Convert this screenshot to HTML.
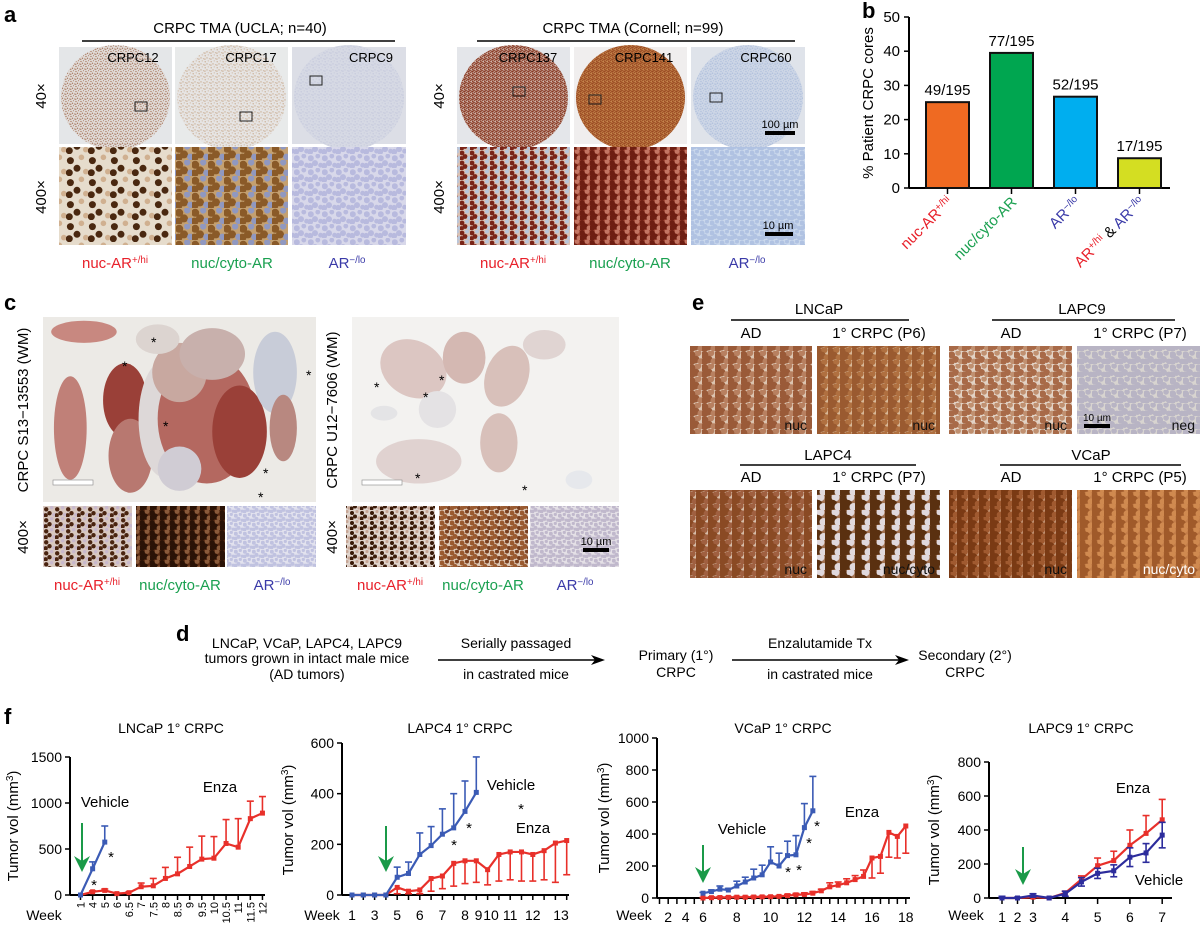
<!DOCTYPE html>
<html><head><meta charset="utf-8"><style>
html,body{margin:0;padding:0;background:#fff;}
svg{display:block;font-family:"Liberation Sans",Arial,sans-serif;}
</style></head><body>
<svg id="fig" width="1200" height="929" viewBox="0 0 1200 929">
<defs id="defs"></defs>
<g id="root"></g>
</svg>
<script>
// ---------- chart data ----------
const barCats = ['nuc-AR+/hi','nuc/cyto-AR','AR-/lo','AR+/hi & AR-/lo'];
const barVals = [25.1, 39.5, 26.7, 8.7];
const barText = ['49/195','77/195','52/195','17/195'];
const barTicks = [0,10,20,30,40,50];

const lnTickLabels = ['1','4','5','6','6.5','7','7.5','8','8.5','9','9.5','10','10.5','11','11.5','12'];
const lnVehVals = [0,285,575];
const lnVehErr = [0,75,175];
const lnEnzVals = [0,35,50,15,25,90,100,180,230,310,390,400,560,520,830,890];
const lnEnzErr = [0,10,15,5,10,40,80,120,180,210,250,235,260,310,190,180];
const lnYTicks = [0,500,1000,1500];

const l4TickLabels = ['1','3','5','6','7','8','9','10','11','12','13'];
const l4TickPos = [0,2,4,6,8,10,11.2,12.3,14,16,18.5];
const l4VehVals = [0,0,0,0,70,85,160,195,240,265,330,405];
const l4VehErr = [0,0,0,0,40,45,85,75,100,135,120,140];
const l4EnzVals = [0,0,0,0,30,15,20,65,75,125,135,135,100,160,170,170,160,175,205,215];
const l4EnzErr = [0,0,0,0,-25,-10,-15,-50,-50,-90,-90,-85,-60,-105,-110,-115,-105,-115,-155,-135];
const l4YTicks = [0,200,400,600];

const vcTickLabels = ['2','4','6','8','10','12','14','16','18'];
const vcTickWeeks = [2,4,6,8,10,12,14,16,18];
const vcVehWeeks = [6,6.5,7,7.5,8,8.5,9,9.5,10,10.5,11,11.5,12,12.5];
const vcVehVals = [30,40,55,50,75,100,125,145,225,200,265,270,440,545];
const vcVehErr = [5,10,20,10,30,30,55,60,95,80,90,120,150,215];
const vcEnzWeeks = [6,6.5,7,7.5,8,8.5,9,9.5,10,10.5,11,11.5,12,12.5,13,13.5,14,14.5,15,15.5,16,16.5,17,17.5,18];
const vcEnzVals = [0,2,3,4,5,5,6,7,8,10,15,20,22,30,45,70,80,95,115,135,250,260,410,385,450];
const vcEnzErr = [3,5,5,5,5,5,5,5,5,5,8,8,10,10,10,25,20,25,25,40,-125,-105,-155,-135,-170];
const vcYTicks = [0,200,400,600,800,1000];

const l9Weeks = [1,2,3,3.5,4,4.5,5,5.5,6,6.5,7];
const l9TickLabels = ['1','2','3','4','5','6','7'];
const l9TickWeeks = [1,2,3,4,5,6,7];
const l9VehVals = [0,0,15,0,25,95,145,160,240,265,370];
const l9VehErr = [10,5,10,5,15,25,30,35,55,55,75];
const l9EnzVals = [0,0,5,0,30,110,190,220,310,380,460];
const l9EnzErr = [0,0,0,0,10,20,45,55,90,105,120];
const l9YTicks = [0,200,400,600,800];

// ---------- helpers ----------
const NS='http://www.w3.org/2000/svg';
const root=document.getElementById('root'), defs=document.getElementById('defs');
function mk(tag,a,p){const e=document.createElementNS(NS,tag);for(const k in a)e.setAttribute(k,a[k]);(p||root).appendChild(e);return e;}
function txt(x,y,s,a,p){const e=mk('text',Object.assign({x:x,y:y},a||{}),p);e.textContent=s;return e;}
let pid=0;
function pat(bg,dot,r,step,dot2){const id='p'+(pid++);const p=mk('pattern',{id:id,width:step,height:step,patternUnits:'userSpaceOnUse'},defs);
 mk('rect',{width:step,height:step,fill:bg},p);
 [[0.2,0.3],[0.7,0.15],[0.5,0.65],[0.9,0.8],[0.15,0.85]].forEach((q,i)=>mk('circle',{cx:q[0]*step,cy:q[1]*step,r:r*(i%2?0.8:1),fill:(dot2&&i%2)?dot2:dot},p));
 return 'url(#'+id+')';}
function tissue(x,y,w,h,bg,dot,r,step,name,dot2){
 const e=mk('rect',{x:x,y:y,width:w,height:h,fill:pat(bg,dot,r,step,dot2)});
 
 
 return e;}
function core(x,y,w,h,bg,cbg,dot,r,step,name){
 const g=mk('g',{});
 
 
 mk('rect',{x:x,y:y,width:w,height:h,fill:bg},g);
 mk('ellipse',{cx:x+w/2,cy:y+h/2+2,rx:w/2-2,ry:h/2+4,fill:pat(cbg,dot,r,step)},g);
 return g;}
function label(x,y,main,sup,color,size,name){
 const t=txt(x,y,main,{'font-size':size||15,fill:color,'text-anchor':'middle'});
 
 
 if(sup){const s=mk('tspan',{'baseline-shift':'super','font-size':(size||15)*0.65},t);s.textContent=sup;}
 return t;}

// ---------- panel a ----------
let t=txt(4,22,'a',{'font-size':22,'font-weight':'bold'});


t=txt(240,33,'CRPC TMA (UCLA; n=40)',{'font-size':15,'text-anchor':'middle'});


t=txt(633,33,'CRPC TMA (Cornell; n=99)',{'font-size':15,'text-anchor':'middle'});


let ln=mk('line',{x1:82,y1:41,x2:395,y2:41,stroke:'#000','stroke-width':1.5});


ln=mk('line',{x1:477,y1:41,x2:795,y2:41,stroke:'#000','stroke-width':1.5});



core(59,47,113,97,'#e4e6e8','#e0dad6','#a06a50',0.6,5,'crpc12-40x');
core(175,47,113,97,'#e8eaea','#e6e4e3','#c8ac90',0.7,6,'crpc17-40x');
core(292,47,114,97,'#dcdee6','#d6d9e4','#c4c8dc',0.7,6,'crpc9-40x');
core(457,47,113,97,'#e4e6ea','#d4beb4','#8a3a24',0.9,4,'crpc137-40x');
core(574,47,113,97,'#f0eeee','#c88a50','#9a4a22',0.9,4,'crpc141-40x');
core(691,47,114,97,'#dfe3ea','#cdd6e6','#b0c0dc',0.7,5,'crpc60-40x');
tissue(59,147,113,98,'#e6dccc','#4a2810',3.5,22,'nuc-ar-400x','#d0b090');
tissue(175,147,113,98,'#c4a070','#8a5a28',4,16,'nuc-cyto-ar-400x','#9098c0');
tissue(292,147,114,98,'#d8d8ea','#b8bade',3,14,'ar-lo-400x');
tissue(457,147,113,98,'#d8c0b4','#7a2418',2.4,10,'crpc137-400x','#b8c6dc');
tissue(574,147,113,98,'#a04634','#6e1e12',3,10,'crpc141-400x','#c47664');
tissue(691,147,114,98,'#cad8ec','#b0c2e2',2.5,10,'crpc60-400x');
[['CRPC12',133],['CRPC17',251],['CRPC9',371],['CRPC137',528],['CRPC141',644],['CRPC60',766]].forEach(c=>{
 const e=txt(c[1],62,c[0],{'font-size':13,'text-anchor':'middle'});
 
 });
[[135,102],[240,112],[310,76],[513,87],[589,95],[710,93]].forEach(b=>{
 const e=mk('rect',{x:b[0],y:b[1],width:12,height:9,fill:'none',stroke:'#222','stroke-width':1});
 
 });
[[46,96,'40×'],[46,197,'400×'],[444,96,'40×'],[444,197,'400×']].forEach(r=>{
 const e=txt(r[0],r[1],r[2],{'font-size':15,'text-anchor':'middle',transform:'rotate(-90 '+r[0]+' '+r[1]+')'});
 
 });
t=txt(780,128,'100 µm',{'font-size':11,'text-anchor':'middle'});


ln=mk('rect',{x:765,y:131,width:30,height:4,fill:'#000'});


t=txt(778,229,'10 µm',{'font-size':11,'text-anchor':'middle'});


ln=mk('rect',{x:765,y:232,width:28,height:4,fill:'#000'});


label(115,268,'nuc-AR','+/hi','#e8202a',15,'nuc-ar-label');
label(513,268,'nuc-AR','+/hi','#e8202a',15,'nuc-ar-label');
label(232,268,'nuc/cyto-AR','','#1aa050',15,'nuc-cyto-label');
label(630,268,'nuc/cyto-AR','','#1aa050',15,'nuc-cyto-label');
label(347,268,'AR','−/lo','#3a3aa8',15,'ar-lo-label');
label(747,268,'AR','−/lo','#3a3aa8',15,'ar-lo-label');

// ---------- panel b ----------
const bX0=909,bX1=1170,bY0=188,bYTop=17,bFirst=947.5,bStep=64,bW=43;
const barColors=['#ef6a22','#00a650','#00aeef','#d4de22'];
function by(v){return bY0-(v/50)*(bY0-bYTop);}
function bx(i){return bFirst+i*bStep;}
t=txt(862,18,'b',{'font-size':22,'font-weight':'bold'});


ln=mk('line',{x1:bX0,y1:bYTop,x2:bX0,y2:bY0,stroke:'#000','stroke-width':2});


ln=mk('line',{x1:bX0,y1:bY0,x2:bX1,y2:bY0,stroke:'#000','stroke-width':2});


barTicks.forEach(v=>{
 const e=mk('line',{x1:bX0-5,y1:by(v),x2:bX0,y2:by(v),stroke:'#000','stroke-width':1.5});
 
 
 const l=txt(bX0-9,by(v)+5,String(v),{'font-size':15,'text-anchor':'end'});
 
 });
t=txt(873,103,'% Patient CRPC cores',{'font-size':15,'text-anchor':'middle',transform:'rotate(-90 873 103)'});


barVals.forEach((v,i)=>{
 const r=mk('rect',{x:bx(i)-bW/2,y:by(v),width:bW,height:bY0-by(v),fill:barColors[i],stroke:'#111','stroke-width':2});
 
 
 const l=txt(bx(i),by(v)-7,barText[i],{'font-size':15,'text-anchor':'middle'});
 
 
 const tk=mk('line',{x1:bx(i),y1:bY0,x2:bx(i),y2:bY0+6,stroke:'#000','stroke-width':1.5});
 
 });
function rotLab(i,parts){
 const x=bx(i)+6,y=203;
 const e=txt(x,y,'',{'font-size':15,'text-anchor':'end',transform:'rotate(-45 '+x+' '+y+')'});
 
 
 parts.forEach(p=>{const s=mk('tspan',{fill:p[1]},e);if(p[2]){s.setAttribute('baseline-shift','super');s.setAttribute('font-size',10);}s.textContent=p[0];});}
rotLab(0,[['nuc-AR','#e8202a'],['+/hi','#e8202a',1]]);
rotLab(1,[['nuc/cyto-AR','#1aa050']]);
rotLab(2,[['AR','#3a3aa8'],['−/lo','#3a3aa8',1]]);
rotLab(3,[['AR','#e8202a'],['+/hi','#e8202a',1],[' & ','#000'],['AR','#3a3aa8'],['−/lo','#3a3aa8',1]]);

// ---------- panel c ----------
t=txt(4,310,'c',{'font-size':22,'font-weight':'bold'});


function wholeMount(x,y,w,h,bg,blobs,name){
 const g=mk('g',{});
 
 
 mk('rect',{x:x,y:y,width:w,height:h,fill:bg},g);
 blobs.forEach(b=>mk('ellipse',{cx:x+b[0]*w,cy:y+b[1]*h,rx:b[2]*w,ry:b[3]*h,fill:b[4],transform:'rotate('+(b[5]||0)+' '+(x+b[0]*w)+' '+(y+b[1]*h)+')'},g));
 mk('rect',{x:x+10,y:y+h-22,width:40,height:5,fill:'#fff',stroke:'#888','stroke-width':0.6},g);
 return g;}
const red='#b46860',red2='#9a4038';
wholeMount(43,317,273,185,'#eceae6',[
 [0.15,0.08,0.12,0.06,'#c88880'],[0.1,0.6,0.06,0.28,'#c08078',0],[0.3,0.45,0.08,0.2,red2],[0.32,0.75,0.08,0.2,'#b87870'],
 [0.45,0.55,0.1,0.32,'#ddd8d8'],[0.6,0.55,0.18,0.35,red],[0.72,0.62,0.1,0.25,red2],[0.5,0.3,0.1,0.16,'#c8a8a0'],
 [0.85,0.3,0.08,0.22,'#c8ccd8'],[0.62,0.2,0.12,0.14,'#c8b0ac'],[0.42,0.12,0.08,0.08,'#dcd4d0'],[0.88,0.6,0.05,0.18,'#b88880'],
 [0.5,0.82,0.08,0.12,'#d0ccd4']],'crpc-s13-wholemount');
wholeMount(352,317,267,185,'#f3f2f0',[
 [0.23,0.28,0.13,0.15,'#dcc6c2',30],[0.42,0.22,0.08,0.14,'#d4b8b2'],[0.58,0.32,0.08,0.17,'#d8c0ba',20],[0.72,0.15,0.08,0.08,'#e0d4d2'],
 [0.25,0.78,0.16,0.12,'#e0d2d0'],[0.55,0.68,0.07,0.16,'#d8c0ba'],[0.32,0.5,0.07,0.1,'#e4e2e4'],[0.12,0.52,0.05,0.04,'#e4e4e6'],[0.85,0.88,0.05,0.05,'#e6e8ec']],'crpc-u12-wholemount');
[[155,342],[126,366],[310,375],[167,426],[267,473],[262,497],[378,387],[443,380],[427,397],[419,478],[526,490]].forEach(s=>{
 const e=txt(s[0]-4,s[1]+5,'*',{'font-size':14});
 
 });
tissue(43,506,89,61,'#d8c8c0','#4a2410',2.2,11,'s13-nuc-ar-400x','#c8b8cc');
tissue(136,506,89,61,'#5a2a12','#2a1206',3,10,'s13-nuc-cyto-400x','#8a5a3a');
tissue(227,506,89,61,'#e2e2ee','#c0c2e0',2,9,'s13-ar-lo-400x');
tissue(346,506,89,61,'#e0d4cc','#3a1a08',2,10,'u12-nuc-ar-400x','#c8a898');
tissue(439,506,89,61,'#dcc6b4','#9a5a30',2.5,10,'u12-nuc-cyto-400x','#7a4020');
tissue(530,506,89,61,'#e4e0e6','#c0b8cc',2,9,'u12-ar-lo-400x');
t=txt(596,545,'10 µm',{'font-size':11,'text-anchor':'middle'});


ln=mk('rect',{x:583,y:548,width:26,height:4,fill:'#000'});


[[28,410,'CRPC S13−13553 (WM)'],[337,410,'CRPC U12−7606 (WM)'],[28,537,'400×'],[337,537,'400×']].forEach(r=>{
 const e=txt(r[0],r[1],r[2],{'font-size':15,'text-anchor':'middle',transform:'rotate(-90 '+r[0]+' '+r[1]+')'});
 
 });
label(87,590,'nuc-AR','+/hi','#e8202a',15,'nuc-ar-label');
label(180,590,'nuc/cyto-AR','','#1aa050',15,'nuc-cyto-label');
label(272,590,'AR','−/lo','#3a3aa8',15,'ar-lo-label');
label(390,590,'nuc-AR','+/hi','#e8202a',15,'nuc-ar-label');
label(483,590,'nuc/cyto-AR','','#1aa050',15,'nuc-cyto-label');
label(575,590,'AR','−/lo','#3a3aa8',15,'ar-lo-label');

// ---------- panel e ----------
t=txt(692,310,'e',{'font-size':22,'font-weight':'bold'});


[[819,314,'LNCaP',731,909,320],[1082,314,'LAPC9',992,1175,320],[828,460,'LAPC4',740,916,465],[1091,460,'VCaP',1000,1181,465]].forEach(h=>{
 const e=txt(h[0],h[1],h[2],{'font-size':15,'text-anchor':'middle'});
 
 
 const l=mk('line',{x1:h[3],y1:h[5],x2:h[4],y2:h[5],stroke:'#000','stroke-width':1.5});
 
 });
[[751,338,'AD'],[879,338,'1° CRPC (P6)'],[1011,338,'AD'],[1140,338,'1° CRPC (P7)'],[751,482,'AD'],[879,482,'1° CRPC (P7)'],[1011,482,'AD'],[1140,482,'1° CRPC (P5)']].forEach(h=>{
 const e=txt(h[0],h[1],h[2],{'font-size':15,'text-anchor':'middle'});
 
 });
const eX=[690,817,949,1077],eW=[122,123,123,123];
tissue(eX[0],346,eW[0],88,'#dcc4b0','#9a5a38',4,13,'lncap-ad-ihc','#b88060');
tissue(eX[1],346,eW[1],88,'#d8b898','#9a5a30',4,12,'lncap-crpc-ihc','#b07040');
tissue(eX[2],346,eW[2],88,'#e2d2c4','#a86a48',3.5,13,'lapc9-ad-ihc','#c09070');
tissue(eX[3],346,eW[3],88,'#d8d4d0','#b8b4c4',3.5,13,'lapc9-crpc-ihc');
tissue(eX[0],490,eW[0],88,'#d6bca8','#8a4a24',4,12,'lapc4-ad-ihc','#a06040');
tissue(eX[1],490,eW[1],88,'#a07050','#5a3010',5,15,'lapc4-crpc-ihc','#e0d8dc');
tissue(eX[2],490,eW[2],88,'#c09070','#7a3a14',4,11,'vcap-ad-ihc','#a05a30');
tissue(eX[3],490,eW[3],88,'#c27c48','#a05a2a',4,12,'vcap-crpc-ihc','#d08a50');
[[0,430,'nuc','#111'],[1,430,'nuc','#111'],[2,430,'nuc','#111'],[3,430,'neg','#111'],[0,574,'nuc','#111'],[1,574,'nuc/cyto','#111'],[2,574,'nuc','#111'],[3,574,'nuc/cyto','#fff']].forEach(h=>{
 const e=txt(eX[h[0]]+eW[h[0]]-5,h[1],h[2],{'font-size':14,'text-anchor':'end',fill:h[3]});
 
 });
t=txt(1097,421,'10 µm',{'font-size':10,'text-anchor':'middle'});


ln=mk('rect',{x:1084,y:424,width:26,height:4,fill:'#000'});



// ---------- panel d ----------
t=txt(176,641,'d',{'font-size':22,'font-weight':'bold'});


[[307,648,'LNCaP, VCaP, LAPC4, LAPC9'],[307,663,'tumors grown in intact male mice'],[307,679,'(AD tumors)'],
 [516,648,'Serially passaged'],[516,679,'in castrated mice'],[676,660,'Primary (1°)'],[676,677,'CRPC'],
 [820,648,'Enzalutamide Tx'],[820,679,'in castrated mice'],[965,660,'Secondary (2°)'],[965,677,'CRPC']].forEach(h=>{
 const e=txt(h[0],h[1],h[2],{'font-size':14,'text-anchor':'middle'});
 
 });
[[438,605,660],[732,909,660]].forEach(a=>{
 const e=mk('g',{});
 
 
 mk('line',{x1:a[0],y1:a[2],x2:a[1]-8,y2:a[2],stroke:'#000','stroke-width':1.5},e);
 mk('path',{d:'M'+a[1]+' '+a[2]+' l-14 -5 l4 5 l-4 5 z',fill:'#000'},e);});

// ---------- panel f ----------
t=txt(4,724,'f',{'font-size':22,'font-weight':'bold'});


const BLUE='#3b5bb5',BLUE2='#2c2c9c',RED='#e8302a',GREEN='#1a9a48';

function axes(c){
 const g=mk('g',{});
 
 
 mk('line',{x1:c.ax,y1:c.yTop,x2:c.ax,y2:c.y0,stroke:'#000','stroke-width':2},g);
 mk('line',{x1:c.ax,y1:c.y0,x2:c.xEnd,y2:c.y0,stroke:'#000','stroke-width':2},g);
 c.yTicks.forEach(v=>{
  mk('line',{x1:c.ax-5,y1:c.ys(v),x2:c.ax,y2:c.ys(v),stroke:'#000','stroke-width':1.5},g);
  const l=txt(c.ax-8,c.ys(v)+5,String(v),{'font-size':14,'text-anchor':'end'},g);
  
  });
 const tt=txt(c.tx,733,c.title,{'font-size':14,'text-anchor':'middle'});
 
 
 const yt=txt(c.ylx,c.yly,'Tumor vol (mm',{'font-size':15,'text-anchor':'middle',transform:'rotate(-90 '+c.ylx+' '+c.yly+')'});
 
 
 const s=mk('tspan',{'baseline-shift':'super','font-size':10},yt);s.textContent='3';
 const s2=mk('tspan',{},yt);s2.textContent=')';
 const wk=txt(c.wx,920,'Week',{'font-size':14,'text-anchor':'middle'});
 
 }
function series(c,xs,vals,errs,color,name){
 const g=mk('g',{});
 
 
 vals.forEach((v,i)=>{const e=errs[i];if(!e)return;const x=c.xs(xs[i]);
  const y1=c.ys(v),y2=c.ys(Math.max(0,v+e));
  mk('line',{x1:x,y1:y1,x2:x,y2:y2,stroke:color,'stroke-width':1.6},g);
  mk('line',{x1:x-3.5,y1:y2,x2:x+3.5,y2:y2,stroke:color,'stroke-width':1.6},g);
  if(c.sym){const y3=c.ys(Math.max(0,v-e));mk('line',{x1:x,y1:y1,x2:x,y2:y3,stroke:color,'stroke-width':1.6},g);mk('line',{x1:x-3.5,y1:y3,x2:x+3.5,y2:y3,stroke:color,'stroke-width':1.6},g);}});
 mk('polyline',{points:vals.map((v,i)=>c.xs(xs[i])+','+c.ys(v)).join(' '),fill:'none',stroke:color,'stroke-width':2.2},g);
 vals.forEach((v,i)=>{mk('rect',{x:c.xs(xs[i])-2.5,y:c.ys(v)-2.5,width:5,height:5,fill:color},g);});}
function arrow(x,y1,y2,name){
 const g=mk('g',{});
 
 
 mk('line',{x1:x,y1:y1,x2:x,y2:y2-8,stroke:GREEN,'stroke-width':2},g);
 mk('path',{d:'M'+x+' '+y2+' l-8 -16 l8 5 l8 -5 z',fill:GREEN},g);}
function note(x,y,s,name,size){
 const e=txt(x,y,s,{'font-size':size||15,'text-anchor':'middle'});
 
 }
function idx(n){return Array.from({length:n},(_,i)=>i);}

// LNCaP
const cLN={id:'lncap',ax:70,y0:895,yTop:757,xEnd:265,yTicks:lnYTicks,tx:171,title:'LNCaP 1° CRPC',ylx:18,yly:826,wx:44,
 xs:i=>80.5+i*12.13, ys:v=>895-v*(138/1500)};
axes(cLN);
lnTickLabels.forEach((s,i)=>{
 const x=cLN.xs(i);
 const tk=mk('line',{x1:x,y1:895,x2:x,y2:900,stroke:'#000','stroke-width':1.5});
 
 
 const e=txt(x+4,902,s,{'font-size':11,'text-anchor':'end',transform:'rotate(-90 '+(x+4)+' 902)'});
 
 });
series(cLN,idx(lnEnzVals.length),lnEnzVals,lnEnzErr,RED,'lncap-enza-series');
series(cLN,idx(lnVehVals.length),lnVehVals,lnVehErr,BLUE,'lncap-vehicle-series');
arrow(82,823,872,'lncap-treatment-arrow');
note(105,807,'Vehicle','lncap-vehicle-label');note(220,792,'Enza','lncap-enza-label');
note(111,862,'*','sig-star');note(94,890,'*','sig-star');

// LAPC4
const cL4={id:'lapc4',ax:342,y0:895,yTop:743,xEnd:569,yTicks:l4YTicks,tx:460,title:'LAPC4 1° CRPC',ylx:293,yly:820,wx:322,
 xs:i=>352+i*11.3, ys:v=>895-v*(152/600)};
axes(cL4);
idx(20).forEach(i=>{const tk=mk('line',{x1:cL4.xs(i),y1:895,x2:cL4.xs(i),y2:900,stroke:'#000','stroke-width':1.5});
 
 });
l4TickLabels.forEach((s,i)=>{const e=txt(cL4.xs(l4TickPos[i]),920,s,{'font-size':14,'text-anchor':'middle'});
 
 });
series(cL4,idx(l4EnzVals.length),l4EnzVals,l4EnzErr,RED,'lapc4-enza-series');
series(cL4,idx(l4VehVals.length),l4VehVals,l4VehErr,BLUE,'lapc4-vehicle-series');
arrow(386,826,872,'lapc4-treatment-arrow');
note(511,790,'Vehicle','lapc4-vehicle-label');note(533,833,'Enza','lapc4-enza-label');
note(521,814,'*','sig-star');note(469,833,'*','sig-star');note(454,850,'*','sig-star');

// VCaP
const cVC={id:'vcap',ax:657,y0:898,yTop:738,xEnd:910,yTicks:vcYTicks,tx:783,title:'VCaP 1° CRPC',ylx:609,yly:818,wx:634,
 xs:w=>w<6?703-(6-w)*8.7:703+(w-6)*16.9, ys:v=>898-v*0.16};
axes(cVC);
[1,2,3,4,5,6,6.5,7,7.5,8,8.5,9,9.5,10,10.5,11,11.5,12,12.5,13,13.5,14,14.5,15,15.5,16,16.5,17,17.5,18].forEach(w=>{
 const tk=mk('line',{x1:cVC.xs(w),y1:898,x2:cVC.xs(w),y2:904,stroke:'#000','stroke-width':1.5});
 
 });
vcTickLabels.forEach((s,i)=>{const e=txt(cVC.xs(vcTickWeeks[i]),922,s,{'font-size':14,'text-anchor':'middle'});
 
 });
series(cVC,vcEnzWeeks,vcEnzVals,vcEnzErr,RED,'vcap-enza-series');
series(cVC,vcVehWeeks,vcVehVals,vcVehErr,BLUE,'vcap-vehicle-series');
arrow(703,845,883,'vcap-treatment-arrow');
note(742,834,'Vehicle','vcap-vehicle-label');note(862,817,'Enza','vcap-enza-label');
note(817,831,'*','sig-star');note(809,848,'*','sig-star');note(799,875,'*','sig-star');note(788,877,'*','sig-star');

// LAPC9
const cL9={id:'lapc9',ax:989,y0:898,yTop:762,xEnd:1172,yTicks:l9YTicks,tx:1081,title:'LAPC9 1° CRPC',ylx:939,yly:830,wx:966,sym:true,
 xs:w=>w<=3?1002+(w-1)*15.5:1033+(w-3)*32.3, ys:v=>898-v*(136/800)};
axes(cL9);
l9TickLabels.forEach((s,i)=>{const x=cL9.xs(l9TickWeeks[i]);
 const tk=mk('line',{x1:x,y1:898,x2:x,y2:904,stroke:'#000','stroke-width':1.5});
 
 
 const e=txt(x,922,s,{'font-size':14,'text-anchor':'middle'});
 
 });
const cL9r=Object.assign({},cL9,{sym:false});
series(cL9r,l9Weeks,l9EnzVals,l9EnzErr,RED,'lapc9-enza-series');
series(cL9,l9Weeks,l9VehVals,l9VehErr,BLUE2,'lapc9-vehicle-series');
arrow(1023,847,885,'lapc9-treatment-arrow');
note(1133,793,'Enza','lapc9-enza-label');note(1159,885,'Vehicle','lapc9-vehicle-label');
</script>
</body></html>
